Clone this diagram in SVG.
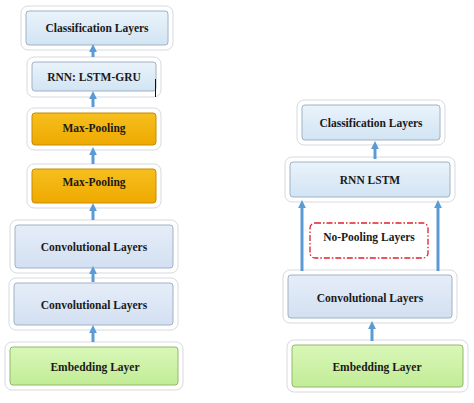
<svg xmlns="http://www.w3.org/2000/svg" width="474" height="403" viewBox="0 0 474 403">
<defs>
<linearGradient id="gBlue" x1="0" y1="0" x2="0" y2="1"><stop offset="0" stop-color="#e9f3fb"/><stop offset="1" stop-color="#d2e4f3"/></linearGradient>
<linearGradient id="gConv" x1="0" y1="0" x2="0" y2="1"><stop offset="0" stop-color="#e6edf8"/><stop offset="1" stop-color="#d3e0f2"/></linearGradient>
<linearGradient id="gOrange" x1="0" y1="0" x2="0" y2="1"><stop offset="0" stop-color="#f7bf1e"/><stop offset="1" stop-color="#eea900"/></linearGradient>
<linearGradient id="gGreen" x1="0" y1="0" x2="0" y2="1"><stop offset="0" stop-color="#d9f7b8"/><stop offset="1" stop-color="#c2ec96"/></linearGradient>
<marker id="ah" viewBox="0 0 10 10" refX="5" refY="5" markerWidth="2.6" markerHeight="2.6" orient="auto"><path d="M0,0 L10,5 L0,10 z" fill="#5b9bd5"/></marker>
</defs>
<style>
.glow{fill:#ffffff;stroke:#d6d9de;stroke-width:1}
.inner{stroke:#9fb2c6;stroke-width:1}
.blue{fill:url(#gBlue)}
.conv{fill:url(#gConv)}
.orange{fill:url(#gOrange);stroke:#c58c00}
.green{fill:url(#gGreen);stroke:#93b86a}
.lbl{font-family:"Liberation Serif","Times New Roman",serif;font-weight:bold;font-size:11.5px;fill:#1a1a1a;text-anchor:middle}
.arr{stroke:#5b9bd5;stroke-width:3;fill:none;marker-end:url(#ah)}
</style>
<rect width="474" height="403" fill="#ffffff"/>

<!-- Left column -->
<g id="l-class">
<rect class="glow" x="21" y="6" width="152" height="44" rx="7"/>
<rect class="inner blue" x="26" y="11" width="142" height="34" rx="3"/>
<text class="lbl" x="97" y="32">Classification Layers</text>
</g>
<g id="l-rnn">
<rect class="glow" x="27" y="57" width="134" height="40" rx="7"/>
<rect class="inner blue" x="32" y="62" width="124" height="29" rx="3"/>
<text class="lbl" x="94" y="81">RNN: LSTM-GRU</text>
<line x1="155.5" y1="79" x2="155.5" y2="97" stroke="#111" stroke-width="1"/>
</g>
<g id="l-max1">
<rect class="glow" x="27" y="108" width="134" height="42" rx="7"/>
<rect class="inner orange" x="32" y="113" width="124" height="32" rx="3"/>
<text class="lbl" x="94" y="132">Max-Pooling</text>
</g>
<g id="l-max2">
<rect class="glow" x="27" y="164" width="134" height="44" rx="7"/>
<rect class="inner orange" x="32" y="169" width="124" height="34" rx="3"/>
<text class="lbl" x="94" y="186">Max-Pooling</text>
</g>
<g id="l-conv1">
<rect class="glow" x="10" y="220" width="168" height="53" rx="7"/>
<rect class="inner conv" x="15" y="225" width="158" height="43" rx="3"/>
<text class="lbl" x="94" y="251">Convolutional Layers</text>
</g>
<g id="l-conv2">
<rect class="glow" x="9" y="278" width="169" height="52" rx="7"/>
<rect class="inner conv" x="14" y="283" width="159" height="42" rx="3"/>
<text class="lbl" x="94" y="309">Convolutional Layers</text>
</g>
<g id="l-embed">
<rect class="glow" x="5" y="342" width="178" height="48" rx="7"/>
<rect class="inner green" x="10" y="347" width="168" height="38" rx="3"/>
<text class="lbl" x="95" y="371">Embedding Layer</text>
</g>

<!-- Right column -->
<g id="r-class">
<rect class="glow" x="297" y="100" width="148" height="45" rx="7"/>
<rect class="inner blue" x="302" y="105" width="138" height="35" rx="3"/>
<text class="lbl" x="371" y="127">Classification Layers</text>
</g>
<g id="r-rnn">
<rect class="glow" x="285" y="157" width="170" height="45" rx="7"/>
<rect class="inner blue" x="290" y="162" width="160" height="35" rx="3"/>
<text class="lbl" x="370" y="184">RNN LSTM</text>
</g>
<g id="r-nopool">
<rect x="310" y="223" width="118" height="35" rx="5" fill="#ffffff" stroke="#e0202a" stroke-width="1.3" stroke-dasharray="6,2,1.5,2"/>
<text class="lbl" x="369" y="241">No-Pooling Layers</text>
</g>
<g id="r-conv">
<rect class="glow" x="283" y="270" width="174" height="53" rx="7"/>
<rect class="inner conv" x="288" y="275" width="164" height="43" rx="3"/>
<text class="lbl" x="370" y="302">Convolutional Layers</text>
</g>
<g id="r-embed">
<rect class="glow" x="287" y="340" width="181" height="52" rx="7"/>
<rect class="inner green" x="292" y="345" width="171" height="42" rx="3"/>
<text class="lbl" x="377" y="371">Embedding Layer</text>
</g>

<g id="connectors">
<line class="arr" x1="93" y1="57" x2="93" y2="48"/>
<line class="arr" x1="93" y1="107" x2="93" y2="95"/>
<line class="arr" x1="93" y1="164" x2="93" y2="151"/>
<line class="arr" x1="93" y1="220" x2="93" y2="207"/>
<line class="arr" x1="93" y1="282" x2="93" y2="270"/>
<line class="arr" x1="93" y1="342" x2="93" y2="329"/>
<line class="arr" x1="375" y1="159" x2="375" y2="145"/>
<line class="arr" x1="302" y1="271" x2="302" y2="204"/>
<line class="arr" x1="438" y1="271" x2="438" y2="204"/>
<line class="arr" x1="372" y1="341" x2="372" y2="325"/>
</g>
</svg>
